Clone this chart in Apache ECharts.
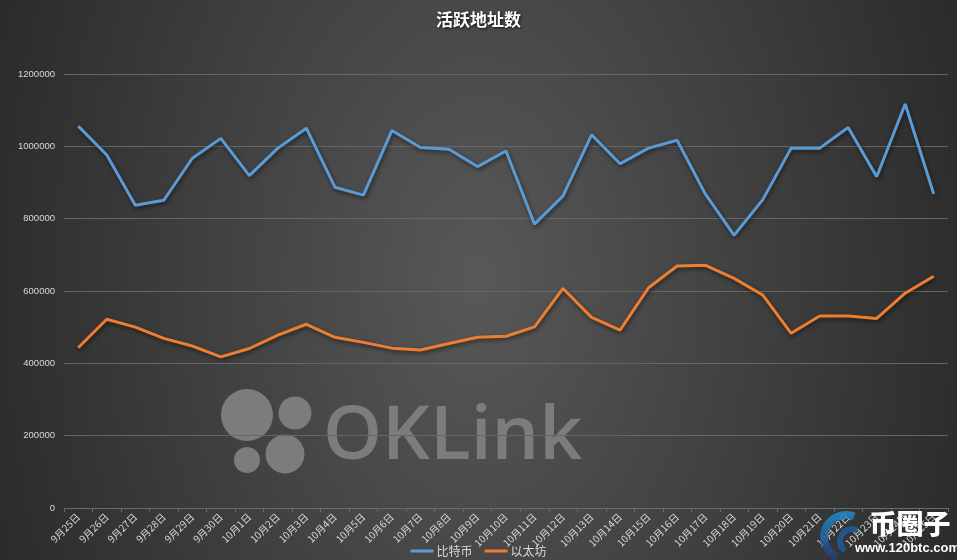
<!DOCTYPE html>
<html>
<head>
<meta charset="utf-8">
<script src="https://cdn.jsdelivr.net/npm/echarts@6/dist/echarts.min.js"></script>
<style>
html,body{margin:0;padding:0;background:#3a3a3a;}
#chart{width:957px;height:560px;}
</style>
</head>
<body>
<div id="chart"></div>
<script>
var titleText = '活跃地址数';
var categories = ['9月25日','9月26日','9月27日','9月28日','9月29日','9月30日',
  '10月1日','10月2日','10月3日','10月4日','10月5日','10月6日','10月7日','10月8日','10月9日','10月10日',
  '10月11日','10月12日','10月13日','10月14日','10月15日','10月16日','10月17日','10月18日','10月19日','10月20日',
  '10月21日','10月22日','10月23日','10月24日','10月25日'];
var seriesNames = ['比特币','以太坊'];
var btc = [1056000,976000,837000,851000,967000,1022000,919000,995000,1050000,887000,865000,
  1044000,997000,992000,944000,987000,785000,863000,1032000,952000,995000,1017000,867000,
  754000,852000,995000,995000,1052000,916000,1117000,868000];
var eth = [443000,522000,500000,469000,448000,418000,441000,478000,508000,472000,458000,
  442000,437000,455000,472000,475000,501000,607000,527000,492000,609000,669000,671000,
  635000,589000,483000,531000,531000,524000,594000,641000];
var yTicks = {min:0, max:1200000, interval:200000};

var chart = echarts.init(document.getElementById('chart'), null, {renderer:'canvas'});
var lineShadow = {shadowColor:'rgba(0,0,0,0.55)', shadowBlur:4, shadowOffsetX:1, shadowOffsetY:2};
chart.setOption({
  backgroundColor: '#2b2b2b',
  animation: false,
  title: {
    text: titleText, left: 'center', top: 6,
    textStyle: {color:'#ffffff', fontSize:17, fontWeight:'bold',
      fontFamily:'"Noto Sans CJK SC", sans-serif',
      textShadowColor:'rgba(0,0,0,0.8)', textShadowBlur:3, textShadowOffsetX:1, textShadowOffsetY:1}
  },
  graphic: [
    {type:'rect', z:-100, x:-41.5, y:-520, scaleX:1.04, scaleY:1.6,
      shape:{x:0,y:0,width:1000,height:1000},
      style:{fill:{type:'radial', x:0.5, y:0.5, r:0.5,
        colorStops:[{offset:0,color:'#585858'},{offset:1,color:'#2a2a2a'}]}}},
    {type:'circle', z:-50, shape:{cx:247,cy:415,r:26}, style:{fill:'#7c7c7c'}},
    {type:'circle', z:-50, shape:{cx:295,cy:413,r:16.5}, style:{fill:'#7c7c7c'}},
    {type:'circle', z:-50, shape:{cx:247,cy:460,r:13}, style:{fill:'#7c7c7c'}},
    {type:'circle', z:-50, shape:{cx:285,cy:454,r:19.5}, style:{fill:'#7c7c7c'}},
    {type:'text', z:-50, x:323, y:438, style:{text:'OKLink', fill:'#7c7c7c',
      font:'600 75px "Open Sans", sans-serif', verticalAlign:'middle', align:'left'}},
    {type:'arc', z:50, shape:{cx:846,cy:537,r:22,startAngle:Math.PI*0.62,endAngle:Math.PI*1.62}, 
      style:{fill:'none', stroke:{type:'linear',x:0,y:0,x2:0,y2:1,colorStops:[{offset:0,color:'#1f8fd0'},{offset:1,color:'#24376e'}]}, lineWidth:8, opacity:0.85}},
    {type:'arc', z:50, shape:{cx:852,cy:541,r:12,startAngle:Math.PI*0.7,endAngle:Math.PI*1.65}, 
      style:{fill:'none', stroke:'#1d5c9c', lineWidth:6, opacity:0.85}},
    {type:'text', z:60, x:910, y:524, style:{text:'币圈子', fill:'#ffffff',
      font:'900 27px "Noto Sans CJK SC", sans-serif', align:'center', verticalAlign:'middle'}},
    {type:'text', z:60, x:855, y:548, style:{text:'www.120btc.com', fill:'#ffffff',
      font:'bold 13px "Liberation Sans", sans-serif', align:'left', verticalAlign:'middle'}}
  ],
  legend: {
    top: 540, left: 'center', itemWidth: 23, itemHeight: 3, itemGap: 12,
    icon: 'rect',
    textStyle: {color:'#d9d9d9', fontSize:12, padding:[0,0,0,-2], fontFamily:'"Noto Sans CJK SC", sans-serif'},
    data: seriesNames
  },
  grid: {left:64, right:9, top:74, bottom:52, containLabel:false},
  xAxis: {
    type:'category', data:categories, boundaryGap:true,
    axisLine:{lineStyle:{color:'#6a6a6a', width:1}},
    axisTick:{show:true, length:4, lineStyle:{color:'#6a6a6a'}},
    axisLabel:{rotate:45, interval:0, color:'#d9d9d9', fontSize:10, margin:7,
      fontFamily:'"Noto Sans CJK SC", sans-serif'},
    splitLine:{show:false}
  },
  yAxis: {
    type:'value', min:yTicks.min, max:yTicks.max, interval:yTicks.interval,
    axisLine:{show:false}, axisTick:{show:false},
    axisLabel:{color:'#d9d9d9', fontSize:9.5, margin:9, fontFamily:'"Liberation Sans", sans-serif',
      formatter:function(v){ return String(v); }},
    splitLine:{lineStyle:{color:'#666666', width:1}}
  },
  series: [
    {name:seriesNames[0], type:'line', data:btc, showSymbol:false, symbol:'none', z:3,
      itemStyle:{color:'#5b9bd5'},
      lineStyle:Object.assign({color:'#5b9bd5', width:3}, lineShadow)},
    {name:seriesNames[1], type:'line', data:eth, showSymbol:false, symbol:'none', z:3,
      itemStyle:{color:'#ed7d31'},
      lineStyle:Object.assign({color:'#ed7d31', width:3}, lineShadow)}
  ]
});
</script>
</body>
</html>
